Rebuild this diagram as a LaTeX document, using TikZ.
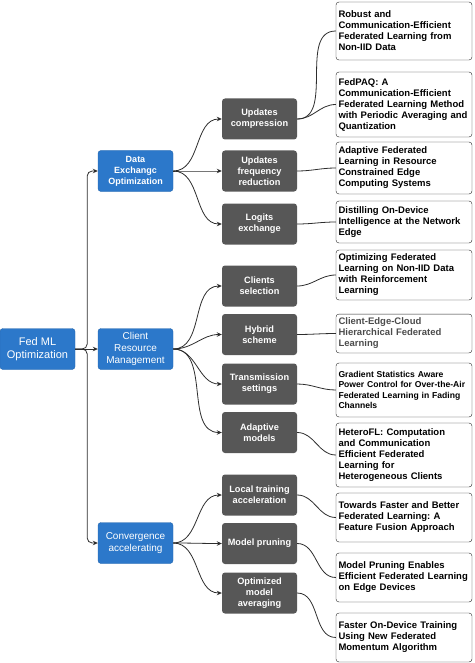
\documentclass[tikz,border=0pt]{standalone}
\usepackage{fontspec}
\setmainfont{Liberation Sans}
\usetikzlibrary{arrows.meta}
\frenchspacing

\definecolor{fmlblue}{RGB}{44,120,202}
\definecolor{fmlgray}{RGB}{87,87,87}
\definecolor{fmlline}{RGB}{45,45,45}

\tikzset{
  topic/.style={fill=fmlblue, draw=fmlblue!85!black, rounded corners=3pt, text=white, align=center,
    minimum width=75pt, minimum height=41pt, inner sep=2pt, font=\fontsize{10}{12}\selectfont},
  method/.style={fill=fmlgray, rounded corners=3pt, text=white, align=center,
    minimum width=75pt, minimum height=41pt, inner sep=2pt, font=\bfseries\fontsize{9.2}{10.8}\selectfont},
  paper/.style={draw=black!85, fill=white, rounded corners=3pt, align=left, text width=131pt,
    inner xsep=2.5pt, inner ysep=4pt, font=\bfseries\fontsize{9.5}{11}\selectfont},
  link/.style={draw=fmlline, line width=0.8pt},
  arr/.style={link, -{Stealth[length=5pt,width=4.5pt]}},
}

\begin{document}
\begin{tikzpicture}[x=1pt,y=1pt,yscale=-1,xscale=1]
\useasboundingbox (0,0) rectangle (474,663);

%Root
\node[topic, font=\fontsize{11}{13}\selectfont] (root) at (37.5,349) {Fed ML\\Optimization};

%Topics
\node[topic, font=\bfseries\fontsize{9}{11}\selectfont] (deo) at (135.5,171) {Data\\Exchangc\\Optimization};
\node[topic] (crm) at (135.5,349) {Client\\Resource\\Management};
\node[topic] (conv) at (135.5,543) {Convergence\\accelerating};

%Methods
\node[method] (ucomp) at (259.5,119) {Updates\\compression};
\node[method] (ufreq) at (259.5,171) {Updates\\frequency\\reduction};
\node[method] (logit) at (259.5,224) {Logits\\exchange};
\node[method] (csel) at (259.5,286) {Clients\\selection};
\node[method] (hyb) at (259.5,334.5) {Hybrid\\scheme};
\node[method] (trans) at (259.5,384) {Transmission\\settings};
\node[method] (adapt) at (259.5,432.5) {Adaptive\\models};
\node[method] (local) at (259.5,495) {Local training\\acceleration};
\node[method] (prune) at (259.5,543.5) {Model pruning};
\node[method] (avg) at (259.5,593) {Optimized\\model\\averaging};

%Papers
\node[paper, minimum height=58pt] (p1) at (404,31) {Robust and\\Communication-Efficient\\Federated Learning from\\Non-IID Data};
\node[paper, minimum height=65pt] (p2) at (404,104.5) {FedPAQ: A\\Communication-Efficient\\Federated Learning Method\\with Periodic Averaging and\\Quantization};
\node[paper, minimum height=52pt] (p3) at (404,168) {Adaptive Federated\\Learning in Resource\\Constrained Edge\\Computing Systems};
\node[paper, minimum height=42pt] (p4) at (404,222) {Distilling On-Device\\Intelligence at the Network\\Edge};
\node[paper, minimum height=50pt] (p5) at (404,275) {Optimizing Federated\\Learning on Non-IID Data\\with Reinforcement\\Learning};
\node[paper, minimum height=37pt, text=black!70] (p6) at (404,333.5) {Client-Edge-Cloud\\Hierarchical Federated\\Learning};
\node[paper, minimum height=54pt, font=\bfseries\fontsize{8.6}{10.5}\selectfont] (p7) at (404,390) {Gradient Statistics Aware\\Power Control for Over-the-Air\\Federated Learning in Fading\\Channels};
\node[paper, minimum height=64pt] (p8) at (404,455) {HeteroFL: Computation\\and Communication\\Efficient Federated\\Learning for\\Heterogeneous Clients};
\node[paper, minimum height=49pt] (p9) at (404,517.5) {Towards Faster and Better\\Federated Learning: A\\Feature Fusion Approach};
\node[paper, minimum height=49pt] (p10) at (404,577.5) {Model Pruning Enables\\Efficient Federated Learning\\on Edge Devices};
\node[paper, minimum height=49pt] (p11) at (404,637.5) {Faster On-Device Training\\Using New Federated\\Momentum Algorithm};

%Root to topics
\draw[arr, rounded corners=5pt] (root.east) -- ++(12,0) |- (deo.west);
\draw[arr, rounded corners=5pt] (root.east) -- ++(12,0) |- (conv.west);
\draw[arr] (root.east) -- (crm.west);

%Topics to methods
\foreach \m in {ucomp,ufreq,logit}
  \draw[arr] (deo.east) to[out=0,in=180] (\m.west);
\foreach \m in {csel,hyb,trans,adapt}
  \draw[arr] (crm.east) to[out=0,in=180] (\m.west);
\foreach \m in {local,prune,avg}
  \draw[arr] (conv.east) to[out=0,in=180] (\m.west);

%Methods to papers
\foreach \m/\p in {ucomp/p1,ucomp/p2,ufreq/p3,logit/p4,csel/p5,hyb/p6,trans/p7,adapt/p8,local/p9,prune/p10,avg/p11}
  \draw[link] (\m.east) to[out=0,in=180] (\p.west);
\end{tikzpicture}
\end{document}
